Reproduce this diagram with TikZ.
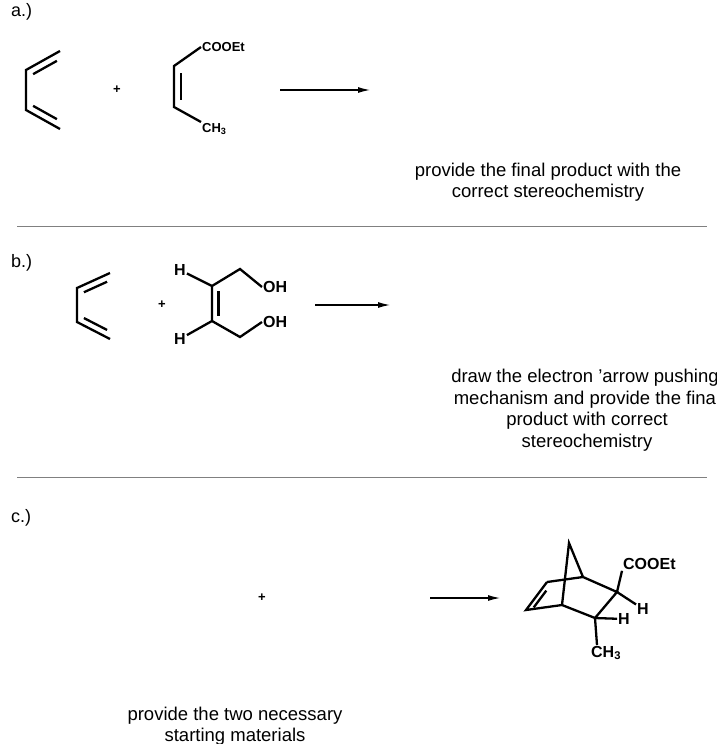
\documentclass[tikz,border=0pt]{standalone}
\usepackage{fontspec}
\setmainfont{Liberation Sans}
\usetikzlibrary{arrows.meta,calc}
\begin{document}
\begin{tikzpicture}[x=1pt,y=-1pt,line width=2.3pt,
  atom/.style={inner sep=0pt,font=\fontsize{16}{16}\selectfont\bfseries},
  atoms/.style={inner sep=0pt,font=\fontsize{13}{13}\selectfont\bfseries},
  txt/.style={align=center,font=\fontsize{18.5}{21.5}\selectfont,inner sep=0pt},
  lab/.style={anchor=west,font=\fontsize{18}{18}\selectfont,inner sep=0pt},
  rxn/.style={line width=1.1pt,-{Latex[length=12pt,width=6pt]}},
  sep/.style={line width=0.8pt,gray}]
\useasboundingbox (0,0) rectangle (717,744);
% labels
\node[lab] (la) at (10,12) {a.)};
\node[lab] (lb) at (10,263) {b.)};
\node[lab] (lc) at (10,518) {c.)};
\coordinate (s1a) at (17,226); \coordinate (s1b) at (707,226);
\coordinate (s2a) at (17,477); \coordinate (s2b) at (707,477);
\draw[sep] (s1a) -- (s1b); \draw[sep] (s2a) -- (s2b);
% ---- a
\coordinate (a1) at (60,51); \coordinate (a2) at (26,70);
\coordinate (a3) at (26,110); \coordinate (a4) at (60,129);
\draw (a1) -- (a2) -- (a3) -- (a4);
\draw ($(a1)!0.15!(a2)+(2,7)$) -- ($(a1)!0.85!(a2)+(2,7)$);
\draw ($(a4)!0.15!(a3)+(2,-7)$) -- ($(a4)!0.85!(a3)+(2,-7)$);
\node[font=\bfseries\fontsize{13}{13}\selectfont] (pa) at (117,90) {+};
\coordinate (d2) at (174,66); \coordinate (d3) at (174,107);
\node[atoms,anchor=west] (cooa) at (201,47) {COOEt};
\node[atoms,anchor=north west] (cha) at (201,122) {CH\textsubscript{3}};
\draw (cooa.west) -- (d2) -- (d3) -- (cha.north west);
\draw (181,73) -- (181,100);
\coordinate (ar1) at (280,90); \coordinate (ar2) at (370,90);
\draw[rxn] (ar1) -- (ar2);
\node[txt] (ta) at (548,182) {provide the final product with the\\correct stereochemistry};
% ---- b
\coordinate (b1) at (110,273); \coordinate (b2) at (77,288);
\coordinate (b3) at (77,322); \coordinate (b4) at (110,339);
\draw (b1) -- (b2) -- (b3) -- (b4);
\draw ($(b1)!0.15!(b2)+(2,6.5)$) -- ($(b1)!0.85!(b2)+(2,6.5)$);
\draw ($(b4)!0.15!(b3)+(2,-6.5)$) -- ($(b4)!0.85!(b3)+(2,-6.5)$);
\node[font=\bfseries\fontsize{13}{13}\selectfont] (pb) at (162,305) {+};
\coordinate (e1) at (212,286); \coordinate (e2) at (212,321);
\coordinate (m1) at (240,269); \coordinate (m2) at (240,337);
\node[atom] (h1) at (180,270) {H};
\node[atom] (h2) at (180,339) {H};
\node[atom,anchor=west] (oh1) at (262,287) {OH};
\node[atom,anchor=west] (oh2) at (262,322) {OH};
\draw (h1) -- (e1) -- (e2) -- (h2);
\draw (e1) -- (m1) -- (oh1.west);
\draw (e2) -- (m2) -- (oh2.west);
\draw (218.5,291) -- (218.5,316);
\coordinate (br1) at (315,305); \coordinate (br2) at (390,305);
\draw[rxn] (br1) -- (br2);
\node[txt] (tb) at (587,410) {draw the electron 'arrow pushing'\\mechanism and provide the final\\product with correct\\stereochemistry};
% ---- c
\node[font=\bfseries\fontsize{13}{13}\selectfont] (pc) at (262,598) {+};
\coordinate (cr1) at (430,598); \coordinate (cr2) at (500,598);
\draw[rxn] (cr1) -- (cr2);
\node[txt] (tc) at (235,726) {provide the two necessary\\starting materials};
\coordinate (A) at (569,543); \coordinate (B) at (583,577);
\coordinate (C2) at (547,582); \coordinate (C3) at (526,610);
\coordinate (D) at (562,605); \coordinate (E) at (617,592);
\coordinate (F) at (595,618);
\draw (B) -- (A) -- (D);
\draw (C2) -- (B);
\draw (C2) -- (C3) -- (D);
\draw ($(C2)!0.2!(C3)+(3.5,3)$) -- ($(C2)!0.8!(C3)+(3.5,3)$);
\draw (B) -- (E) -- (F) -- (D);
\node[atom,anchor=west] (cooc) at (622,564) {COOEt};
\node[atom] (hc1) at (643,609) {H};
\node[atom] (hc2) at (624,619) {H};
\node[atom,anchor=north west] (chc) at (590,645) {CH\textsubscript{3}};
\draw (E) -- (cooc.south west);
\draw (E) -- (hc1);
\draw (F) -- (hc2);
\draw (F) -- (597,645);
\end{tikzpicture}
\end{document}
